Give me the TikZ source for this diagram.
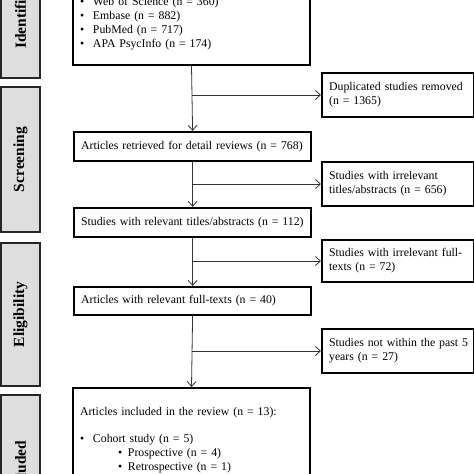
\documentclass[tikz,border=0pt]{standalone}
\usepackage{fontspec}
\setmainfont{Liberation Serif}
\usetikzlibrary{arrows.meta}
\newcommand{\dbitem}{\makebox[13pt][l]{\textbullet}}
\newcommand{\nesteditem}{\hspace*{38pt}\makebox[10pt][l]{\textbullet}}
\begin{document}
\begin{tikzpicture}[x=1pt, y=-1pt,
  stage/.style={draw=black!85, line width=1.8pt, fill=black!13, rotate=90, minimum height=39pt, inner sep=0pt, font=\fontsize{15.5}{18}\selectfont\bfseries},
  mainbox/.style={draw, line width=2.2pt, text width=227pt, inner xsep=5pt, align=left, font=\fontsize{11.8}{14}\selectfont},
  sidebox/.style={draw, line width=2.2pt, text width=142pt, inner xsep=5pt, minimum height=44pt, align=left, anchor=west, font=\fontsize{11.8}{14}\selectfont},
  flow/.style={draw=black!80, line width=0.8pt, -{Straight Barb[length=5pt,width=9pt]}}]
\useasboundingbox (0,0) rectangle (474,474);
\clip (0,0) rectangle (474,474);
% stages down the left side
\foreach \y/\len/\name/\txt in {4/148pt/ident/Identification,
                                159.5/145pt/screen/Screening,
                                314.5/143pt/elig/Eligibility,
                                470/150pt/incl/Included} {
  \node[stage, minimum width=\len] (\name) at (20.5,\y) {\txt};
}
% main column
\node[mainbox, anchor=south, inner ysep=15pt] (search) at (191.5,66)
  {\hspace*{2pt}\dbitem Web of Science (n = 360)\\ \hspace*{2pt}\dbitem Embase (n = 882)\\ \hspace*{2pt}\dbitem PubMed (n = 717)\\ \hspace*{2pt}\dbitem APA PsycInfo (n = 174)};
\node[mainbox, anchor=west, minimum height=29pt] (retrieved) at (73,146.5) {\hspace*{2pt}Articles retrieved for detail reviews (n = 768)};
\node[mainbox, anchor=west, minimum height=29pt] (relevant) at (73,222.5) {\hspace*{2pt}Studies with relevant titles/abstracts (n = 112)};
\node[mainbox, anchor=west, minimum height=28pt] (fulltext) at (73,301) {\hspace*{2pt}Articles with relevant full-texts (n = 40)};
\node[mainbox, anchor=north, inner ysep=19pt] (included) at (191.5,387)
  {\hspace*{2pt}Articles included in the review (n = 13):\\[13pt]
   \hspace*{2pt}\dbitem Cohort study (n = 5)\\ \hspace*{2pt}\nesteditem Prospective (n = 4)\\ \hspace*{2pt}\nesteditem Retrospective (n = 1)};
% exclusions
\node[sidebox] (dup) at (321,95) {\hspace*{2pt}Duplicated studies removed\\\hspace*{2pt}(n = 1365)};
\node[sidebox] (irrtitle) at (321,184) {\hspace*{2pt}Studies with irrelevant\\\hspace*{2pt}titles/abstracts (n = 656)};
\node[sidebox, minimum height=42pt] (irrfull) at (321,261) {\hspace*{2pt}Studies with irrelevant full-\\\hspace*{2pt}texts (n = 72)};
\node[sidebox] (past) at (321,351) {\hspace*{2pt}Studies not within the past 5\\\hspace*{2pt}years (n = 27)};
% arrows
\draw[flow] (search.south) -- (retrieved.north);
\draw[flow] (retrieved.south) -- (relevant.north);
\draw[flow] (relevant.south) -- (fulltext.north);
\draw[flow] (fulltext.south) -- (included.north);
\foreach \side in {dup, irrtitle, irrfull, past}
  \draw[flow] (search.south |- \side.west) -- (\side.west);
\end{tikzpicture}
\end{document}
